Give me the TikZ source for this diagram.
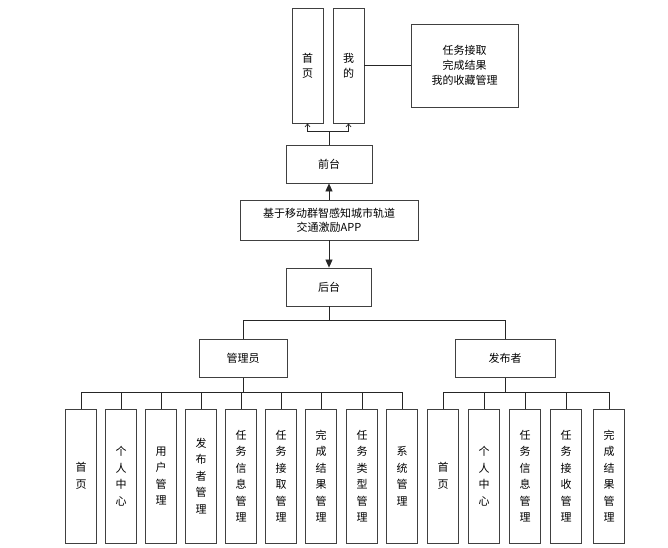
\documentclass[tikz,border=0pt]{standalone}
\usepackage{fontspec}
\setmainfont{Noto Sans CJK SC}
\usetikzlibrary{arrows.meta}
\begin{document}
\begin{tikzpicture}[x=1pt,y=-1pt,
  box/.style={draw=black!75,line width=0.8pt,fill=white,inner sep=0pt,font=\fontsize{11}{15}\selectfont,align=center},
  ln/.style={draw=black!85,line width=0.7pt},
  tall/.style={box,font=\fontsize{11}{16.5}\selectfont,minimum width=31pt,minimum height=134pt},
  wide/.style={box,minimum width=88pt,minimum height=38pt}]
\useasboundingbox (0,0) rectangle (668,547);
\node[box,minimum width=31pt,minimum height=115pt] (sy) at (307.5,65.5) {首\\页};
\node[box,minimum width=31pt,minimum height=115pt] (wd) at (348.5,65.5) {我\\的};
\node[box,minimum width=107pt,minimum height=83pt] (rt) at (464.5,65.5) {任务接取\\完成结果\\我的收藏管理};
\node[wide,minimum width=86pt] (qt) at (329,164) {前台};
\node[box,minimum width=178pt,minimum height=40pt,font=\fontsize{11}{14}\selectfont] (app) at (329,220) {基于移动群智感知城市轨道\\交通激励APP};
\node[wide,minimum width=85pt] (ht) at (329,287) {后台};
\node[wide] (gly) at (243,358.5) {管理员};
\node[wide,minimum width=100pt] (fbz) at (505,358.5) {发布者};
\foreach \n/\x/\t in {a1/81/首\\页,a2/121/个\\人\\中\\心,a3/161/用\\户\\管\\理,a4/201/发\\布\\者\\管\\理,a5/241/任\\务\\信\\息\\管\\理,a6/281/任\\务\\接\\取\\管\\理,a7/321/完\\成\\结\\果\\管\\理,a8/362/任\\务\\类\\型\\管\\理,a9/402/系\\统\\管\\理}
  \node[tall] (\n) at (\x,476) {\t};
\foreach \n/\x/\t in {b1/443/首\\页,b2/484/个\\人\\中\\心,b3/525/任\\务\\信\\息\\管\\理,b4/566/任\\务\\接\\收\\管\\理,b5/609/完\\成\\结\\果\\管\\理}
  \node[tall] (\n) at (\x,476) {\t};
\draw[ln] (wd.east) -- (rt.west);
\coordinate (qj) at (329,131);
\draw[ln] (qt.north) -- (qj);
\draw[ln,-{Straight Barb[length=3pt,width=5pt]}] (qj) -| (sy.south);
\draw[ln,-{Straight Barb[length=3pt,width=5pt]}] (qj) -| (wd.south);
\draw[ln,-{Triangle[length=8pt,width=7pt]}] (app.north) -- (qt.south);
\draw[ln,-{Triangle[length=8pt,width=7pt]}] (app.south) -- (ht.north);
\coordinate (hj) at (329,320);
\draw[ln] (ht.south) -- (hj);
\draw[ln] (hj) -| (gly.north);
\draw[ln] (hj) -| (fbz.north);
\coordinate (gj) at (243,392);
\draw[ln] (gly.south) -- (gj);
\foreach \n in {a1,a2,a3,a4,a5,a6,a7,a8,a9} \draw[ln] (gj) -| (\n.north);
\coordinate (fj) at (505,392);
\draw[ln] (fbz.south) -- (fj);
\foreach \n in {b1,b2,b3,b4,b5} \draw[ln] (fj) -| (\n.north);
\end{tikzpicture}
\end{document}
